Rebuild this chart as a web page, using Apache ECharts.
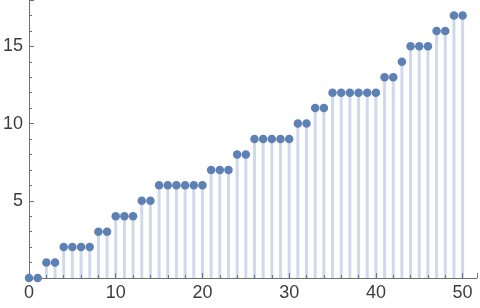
<!DOCTYPE html>
<html><head><meta charset="utf-8">
<script src="https://cdn.jsdelivr.net/npm/echarts@6/dist/echarts.min.js"></script>
<style>html,body{margin:0;padding:0;background:#fff}#c{width:480px;height:308px}</style>
</head><body><div id="c"></div>
<script>
var xs = [];
for (var i = 0; i <= 50; i++) xs.push(i);
var values = [0,0,1,1,2,2,2,2,3,3,4,4,4,5,5,6,6,6,6,6,6,7,7,7,8,8,9,9,9,9,9,10,10,11,11,12,12,12,12,12,12,13,13,14,15,15,15,16,16,17,17];
var xTickLabels = [0,10,20,30,40,50];
var yTickLabels = [5,10,15];

var pts = xs.map(function(x,i){return [x, values[i]];});
var dotColor = '#5e81b5';
var stemColor = 'rgba(94,129,181,0.3)';
var axisColor = '#707070';
var textColor = '#3d3d3d';
var font = 'Liberation Sans';

var chart = echarts.init(document.getElementById('c'), null, {renderer:'canvas'});
chart.setOption({
  animation:false,
  grid:{left:28.5,right:0,top:0,bottom:30,containLabel:false},
  xAxis:[{
    type:'value', min:0, max:51.66, interval:10, position:'bottom',
    axisLine:{show:true,onZero:false,lineStyle:{color:axisColor,width:1}},
    axisTick:{show:true,inside:true,length:5,lineStyle:{color:axisColor}},
    axisLabel:{show:true,margin:6,color:textColor,fontSize:18,fontFamily:font,
      formatter:function(v){return xTickLabels.indexOf(v)>=0?String(v):'';}},
    splitLine:{show:false}
  },{
    type:'value', min:0, max:51.66, interval:2, position:'bottom', gridIndex:0,
    axisLine:{show:false}, axisLabel:{show:false}, splitLine:{show:false},
    axisTick:{show:true,inside:true,length:3,lineStyle:{color:axisColor}}
  }],
  yAxis:[{
    type:'value', min:0, max:18, interval:5, position:'left',
    axisLine:{show:true,lineStyle:{color:axisColor,width:1}},
    axisTick:{show:true,inside:true,length:5,lineStyle:{color:axisColor}},
    axisLabel:{show:true,margin:6,color:textColor,fontSize:18,fontFamily:font,
      formatter:function(v){return yTickLabels.indexOf(v)>=0?String(v):'';}},
    splitLine:{show:false}
  },{
    type:'value', min:0, max:18, interval:1, position:'left', gridIndex:0,
    axisLine:{show:false}, axisLabel:{show:false}, splitLine:{show:false},
    axisTick:{show:true,inside:true,length:3,lineStyle:{color:axisColor}}
  }],
  series:[{
    type:'bar', xAxisIndex:0, yAxisIndex:0, data:pts, barWidth:3,
    itemStyle:{color:stemColor}, silent:true, z:2
  },{
    type:'scatter', xAxisIndex:0, yAxisIndex:0, data:pts, symbol:'circle', symbolSize:8.5,
    itemStyle:{color:dotColor,opacity:1}, clip:false, z:3
  }]
});
</script></body></html>
